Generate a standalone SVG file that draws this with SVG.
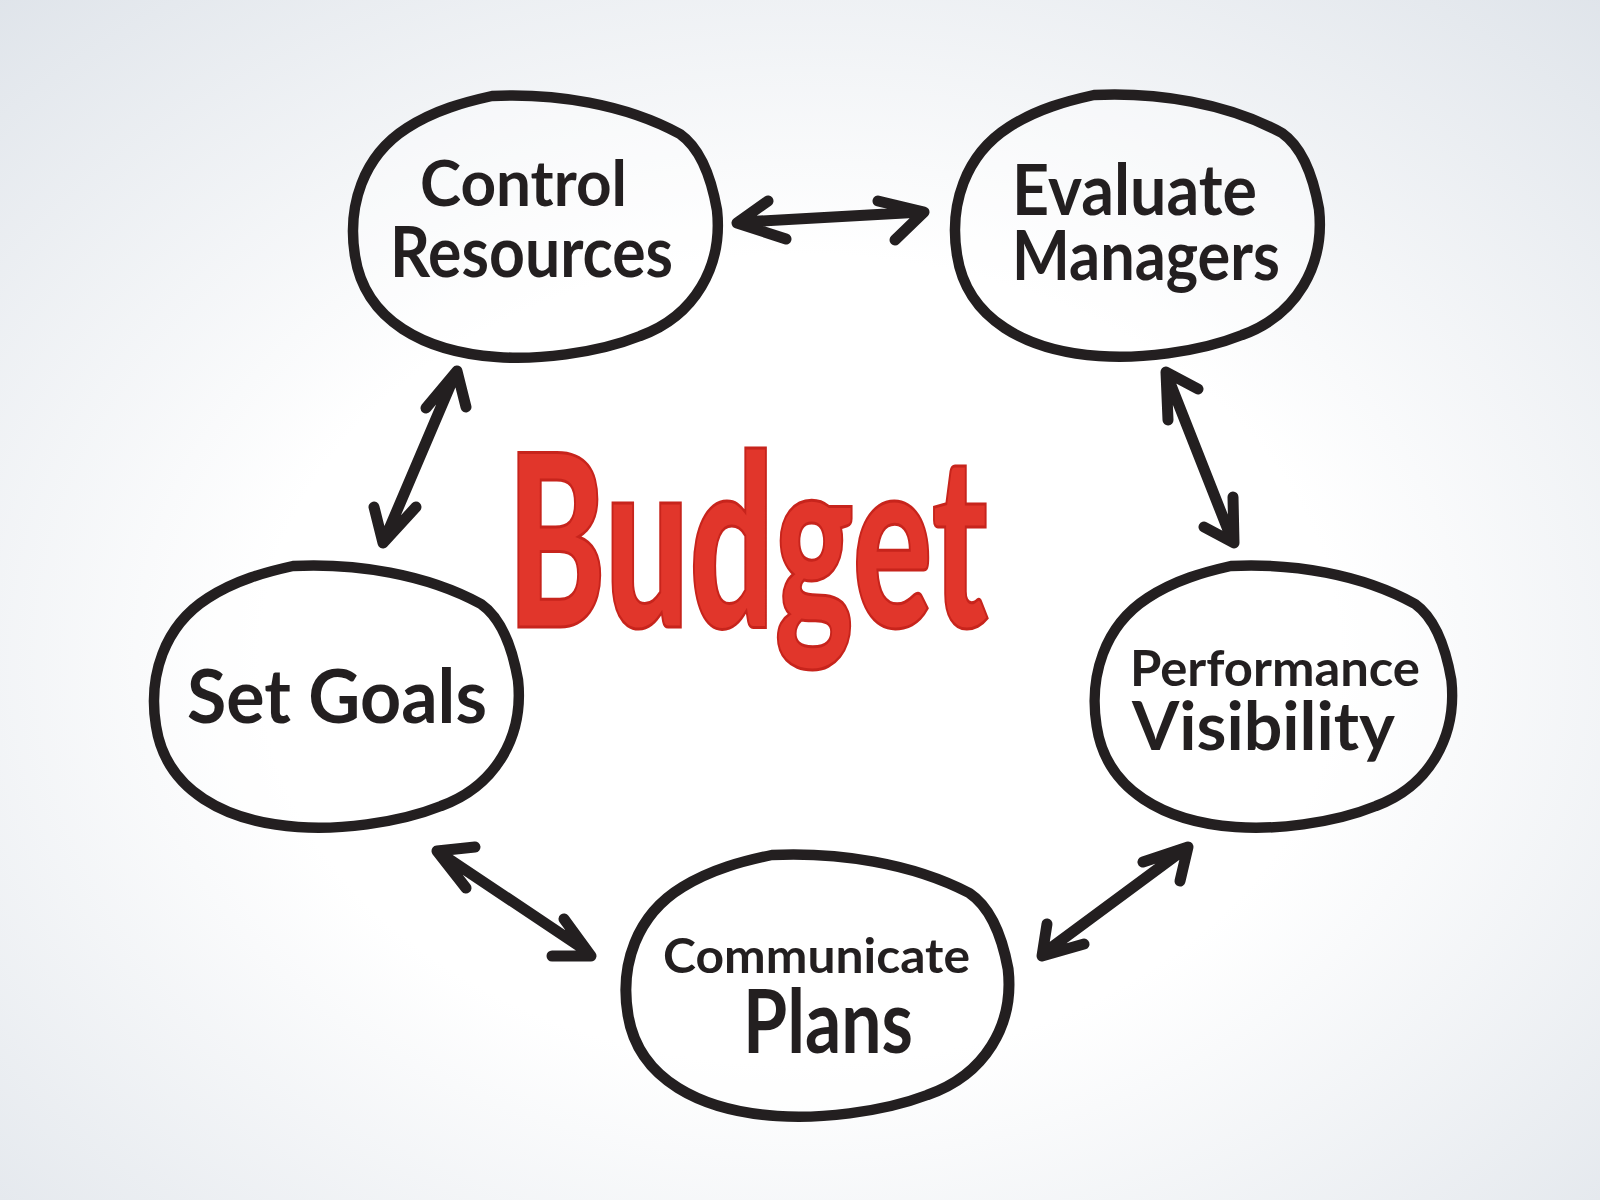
<svg xmlns="http://www.w3.org/2000/svg" xmlns:xlink="http://www.w3.org/1999/xlink" width="1600" height="1200" viewBox="0 0 1600 1200">
  <defs>
    <radialGradient id="bg" cx="50%" cy="55%" r="75%">
      <stop offset="0.45" stop-color="#ffffff"/>
      <stop offset="1" stop-color="#dfe4ea"/>
    </radialGradient>
    <path id="blob" d="M -43,-130 C 20,-133 90,-122 145,-92 C 165,-78 176,-50 182,-16 C 188,40 160,90 105,110 C 60,128 0,134 -38,131 C -110,126 -170,95 -180,30 C -188,-20 -172,-70 -128,-98 C -100,-116 -70,-124 -43,-130 Z"/>
  </defs>
  <style>
    .blob { fill: #ffffff; fill-opacity: 0.35; stroke: #231f20; stroke-width: 10.5; stroke-linejoin: round; vector-effect: non-scaling-stroke; }
    .lbl { font-family: "Lato", "Liberation Sans", sans-serif; font-weight: 700; fill: #231f20; }
    .title { font-family: "Lato", "Liberation Sans", sans-serif; font-weight: 900; fill: #e1362b; stroke: #c7241c; stroke-width: 3; }
    .arr { fill: none; stroke: #231f20; stroke-width: 11; stroke-linecap: round; stroke-linejoin: round; }
  </style>
  <rect x="0" y="0" width="1600" height="1200" fill="url(#bg)"/>

  <g id="connectors">
    <path class="arr" d="M 742,222 L 922,212 M 768,201 L 737,223 L 786,239 M 878,201 L 924,212 L 895,240"/>
    <path class="arr" d="M 456,372 L 384,541 M 426,408 L 457,371 L 466,407 M 374,507 L 383,543 L 416,507"/>
    <path class="arr" d="M 1167,375 L 1232,540 M 1168,420 L 1166,372 L 1198,389 M 1233,497 L 1234,543 L 1204,527"/>
    <path class="arr" d="M 440,853 L 588,952 M 475,847 L 437,851 L 466,888 M 564,919 L 591,956 L 552,956"/>
    <path class="arr" d="M 1186,848 L 1044,953 M 1143,862 L 1188,847 L 1180,881 M 1047,924 L 1042,956 L 1084,944"/>
  </g>

  <g id="budget">
    <text class="title" x="507" y="627" font-size="240" textLength="481" lengthAdjust="spacingAndGlyphs">Budget</text>
  </g>

  <g id="node-control-resources">
    <use xlink:href="#blob" class="blob" transform="translate(535,226)"/>
    <text class="lbl" x="420" y="206" font-size="64" textLength="207" lengthAdjust="spacingAndGlyphs">Control</text>
    <text class="lbl" x="390" y="277" font-size="70" textLength="283" lengthAdjust="spacingAndGlyphs">Resources</text>
  </g>

  <g id="node-evaluate-managers">
    <use xlink:href="#blob" class="blob" transform="translate(1137,225)"/>
    <text class="lbl" x="1012" y="215" font-size="70" textLength="245" lengthAdjust="spacingAndGlyphs">Evaluate</text>
    <text class="lbl" x="1012" y="280" font-size="68" textLength="268" lengthAdjust="spacingAndGlyphs">Managers</text>
  </g>

  <g id="node-set-goals">
    <use xlink:href="#blob" class="blob" transform="translate(336,696)"/>
    <text class="lbl" x="187" y="723" font-size="74" textLength="300" lengthAdjust="spacingAndGlyphs">Set Goals</text>
  </g>

  <g id="node-performance-visibility">
    <use xlink:href="#blob" class="blob" transform="translate(1273,696) scale(0.98,1)"/>
    <text class="lbl" x="1130" y="686" font-size="50" textLength="290" lengthAdjust="spacingAndGlyphs">Performance</text>
    <text class="lbl" x="1132" y="750" font-size="66" textLength="263" lengthAdjust="spacingAndGlyphs">Visibility</text>
  </g>

  <g id="node-communicate-plans">
    <use xlink:href="#blob" class="blob" transform="translate(817,985) scale(1.05,1)"/>
    <text class="lbl" x="663" y="973" font-size="48" textLength="307" lengthAdjust="spacingAndGlyphs">Communicate</text>
    <text class="lbl" x="743" y="1053" font-size="88" textLength="170" lengthAdjust="spacingAndGlyphs">Plans</text>
  </g>
</svg>
